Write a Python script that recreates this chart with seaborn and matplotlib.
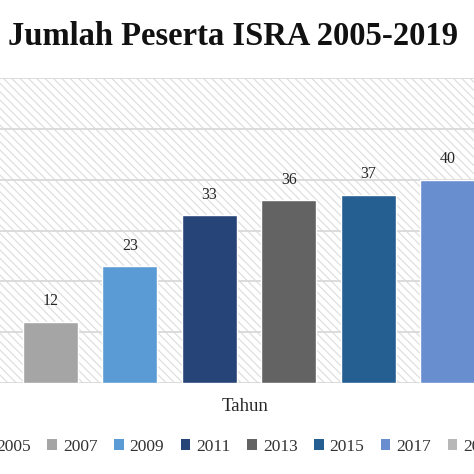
import numpy as np
import pandas as pd
import matplotlib
matplotlib.use("Agg")
import matplotlib.pyplot as plt
import seaborn as sns
from matplotlib.patches import Patch

# data (2005 and 2019 lie outside the crop, estimated)
tahun = ["2005", "2007", "2009", "2011", "2013", "2015", "2017", "2019"]
peserta = [8, 12, 23, 33, 36, 37, 40, 45]
warna = ["#4472C4", "#A5A5A5", "#5B9BD5", "#264478",
         "#636363", "#255E91", "#698ED0", "#B7B7B7"]

df = pd.DataFrame({"Tahun": tahun, "Peserta": peserta})

sns.set_style("white")
plt.rcParams["font.family"] = ["Liberation Serif", "DejaVu Serif"]
plt.rcParams["hatch.linewidth"] = 0.8

fig = plt.figure(figsize=(4.74, 4.74), dpi=100)
# plot area is wider than the picture: the reference is a crop
ax = fig.add_axes([-0.1456, 0.192, 1.342, 0.6434])

sns.barplot(data=df, x="Tahun", y="Peserta", hue="Tahun", palette=warna,
            width=0.69, legend=False, saturation=1, ax=ax)

# hatched background of the plot area
ax.patch.set_edgecolor("#DCDCDC")
ax.patch.set_linewidth(0)
ax.patch.set_hatch("\\\\\\\\")

ax.set_ylim(0, 60)
ax.set_yticks(np.arange(0, 61, 10))
ax.yaxis.grid(True, color="#D9D9D9", linewidth=1.3)
ax.set_axisbelow(True)
for s in ax.spines.values():
    s.set_visible(False)
ax.tick_params(left=False, bottom=False, labelleft=False, labelbottom=False)
ax.set_xlabel("")
ax.set_ylabel("")

for c in ax.containers:
    ax.bar_label(c, padding=9, fontsize=11.5, color="#262626")

fig.text(0.492, 0.924, "Jumlah Peserta ISRA 2005-2019", ha="center", va="center",
         fontsize=23.5, fontweight="bold", color="#111111")
fig.text(0.517, 0.142, "Tahun", ha="center", va="center", fontsize=13.5, color="#262626")

handles = [Patch(facecolor=w, edgecolor="none") for w in warna]
fig.legend(handles, tahun, loc="center", bbox_to_anchor=(0.505, 0.058), ncol=8,
           frameon=False, fontsize=12.5, handlelength=0.55, handleheight=0.55,
           handletextpad=0.35, columnspacing=0.95, labelcolor="#333333")

fig.savefig("out.png", dpi=100)
